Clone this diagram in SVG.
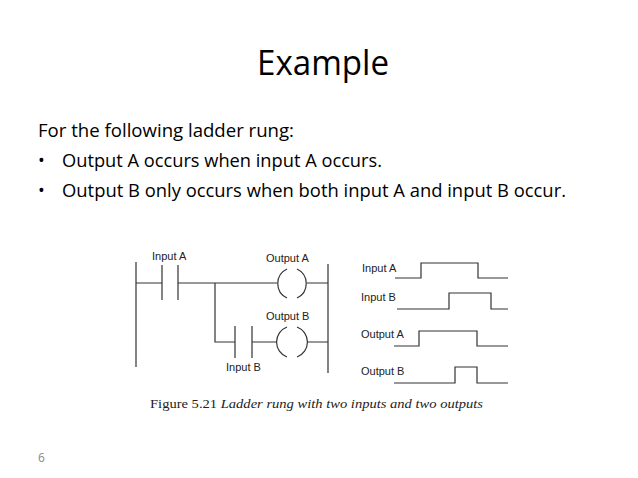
<svg xmlns="http://www.w3.org/2000/svg" width="638" height="478" viewBox="0 0 638 478">
<style>
.t{font-family:"Open Sans","Liberation Sans",sans-serif;fill:#000}
.s{font-family:"Liberation Sans",Arial,sans-serif;font-size:11px;fill:#222}
.l{stroke:#333;stroke-width:1.2;fill:none}
</style>
<rect width="638" height="478" fill="#fff"/>
<text class="t" x="323" y="75" font-size="34" text-anchor="middle" textLength="132" lengthAdjust="spacingAndGlyphs">Example</text>
<text class="t" x="38" y="137" font-size="18" textLength="256" lengthAdjust="spacingAndGlyphs">For the following ladder rung:</text>
<text class="t" x="38" y="167" font-size="18">•</text>
<text class="t" x="62" y="167" font-size="18" textLength="320" lengthAdjust="spacingAndGlyphs">Output A occurs when input A occurs.</text>
<text class="t" x="38" y="197" font-size="18">•</text>
<text class="t" x="62" y="197" font-size="18" textLength="504" lengthAdjust="spacingAndGlyphs">Output B only occurs when both input A and input B occur.</text>
<g id="ladder">
<path class="l" d="M136 262V367M328 264V373M136 283H162M162 265V300M178 265V300M178 283H277M307 283H328M215 283V342H235M235 326V358M252 326V358M252 342H277M307 342H328"/>
<path class="l" d="M287 269A16 16 0 0 0 287 298M297 269A16 16 0 0 1 297 298M287 327A16 16 0 0 0 287 357M297 327A16 16 0 0 1 297 357"/>
<text class="s" x="152" y="260">Input A</text>
<text class="s" x="266" y="262">Output A</text>
<text class="s" x="266" y="320">Output B</text>
<text class="s" x="226" y="371">Input B</text>
</g>
<g id="timing">
<path class="l" d="M395 278H421V263H478V278H508M397 309H449V293H491V309H508M394 346H419V331H477V346H508M394 383H455V367H477V383H508"/>
<text class="s" x="362" y="272">Input A</text>
<text class="s" x="361" y="301">Input B</text>
<text class="s" x="361" y="338">Output A</text>
<text class="s" x="361" y="375">Output B</text>
</g>
<text x="150" y="408" font-family="Liberation Serif,serif" font-size="13" fill="#222" textLength="333" lengthAdjust="spacingAndGlyphs">Figure 5.21  <tspan font-style="italic">Ladder rung with two inputs and two outputs</tspan></text>
<text x="38" y="462" font-family="Open Sans,sans-serif" font-size="12" fill="#888">6</text>
</svg>
